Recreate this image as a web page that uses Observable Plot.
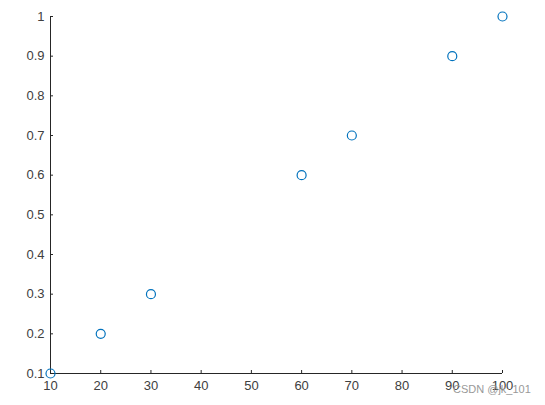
<!DOCTYPE html>
<html><head><meta charset="utf-8">
<script src="https://cdn.jsdelivr.net/npm/d3@7"></script>
<script src="https://cdn.jsdelivr.net/npm/@observablehq/plot@0.6"></script>
<style>
body{margin:0;background:#fff;}
#wrap{position:relative;width:545px;height:405px;}
#wm{position:absolute;left:453px;top:383px;font:11px "Liberation Sans",Arial,sans-serif;color:#999;line-height:13px;}
</style></head>
<body><div id="wrap"><div id="wm">CSDN @jk_101</div></div>
<script>
const xs = [10, 20, 30, 60, 70, 90, 100];
const ys = [0.1, 0.2, 0.3, 0.6, 0.7, 0.9, 1.0];
const xTicks = [10, 20, 30, 40, 50, 60, 70, 80, 90, 100];
const yTicks = [0.1, 0.2, 0.3, 0.4, 0.5, 0.6, 0.7, 0.8, 0.9, 1];
const pts = xs.map((x, i) => ({x, y: ys[i]}));
const ink = "#262626";
const lab = "#404040";
const chart = Plot.plot({
  width: 545, height: 405,
  marginLeft: 50, marginRight: 43, marginTop: 16, marginBottom: 32,
  style: {fontFamily: "'Liberation Sans', Arial, sans-serif", fontSize: "13px", color: lab, background: "transparent", overflow: "visible"},
  x: {domain: [10, 100]},
  y: {domain: [0.1, 1]},
  marks: [
    Plot.axisX({ticks: xTicks, tickSize: -3, tickPadding: 10, label: null, stroke: ink, fill: lab, fontSize: 13}),
    Plot.axisY({ticks: yTicks, tickSize: -3, tickPadding: 9, label: null, stroke: ink, fill: lab, tickFormat: d => String(+d.toFixed(1)), fontSize: 13}),
    Plot.ruleX([10], {stroke: ink}),
    Plot.ruleY([0.1], {stroke: ink}),
    Plot.dot(pts, {x: "x", y: "y", r: 4.5, stroke: "#0072BD", strokeWidth: 1.2, fill: "none", clip: false})
  ]
});
document.getElementById("wrap").prepend(chart);
chart.style.position = "absolute"; chart.style.left = "0"; chart.style.top = "0";
</script></body></html>
